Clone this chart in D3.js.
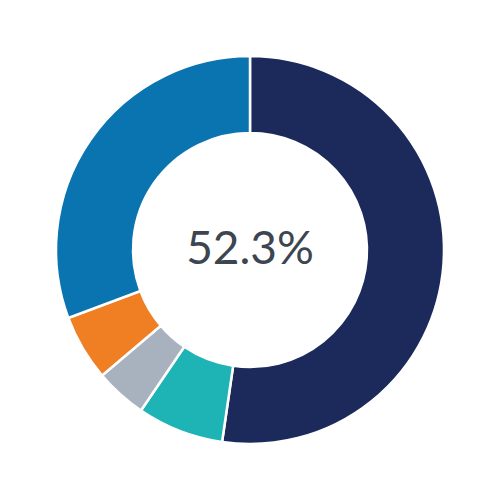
<!DOCTYPE html>
<html>
<head>
<meta charset="utf-8">
<script src="https://cdn.jsdelivr.net/npm/d3@7"></script>
<style>
  body { margin: 0; background: #fff; }
</style>
</head>
<body>
<svg width="500" height="500"></svg>
<script>
var labels = ['A', 'B', 'C', 'D', 'E']
var values = [52.3, 7.2, 4.3, 5.5, 30.7]
var colors = ['#1b2a5b', '#1eb4b6', '#a8b2bf', '#f07e22', '#0a74b1']
var centerLabel = '52.3%'

var svg = d3.select('svg')
var g = svg.append('g').attr('transform', 'translate(250,250)')

var pie = d3.pie().sort(null).value(function (d) { return d })
var arc = d3.arc().innerRadius(117).outerRadius(194)

g.selectAll('path')
  .data(pie(values))
  .enter().append('path')
  .attr('d', arc)
  .attr('fill', function (d, i) { return colors[i] })
  .attr('stroke', '#fff')
  .attr('stroke-width', 2.5)

g.append('text')
  .attr('text-anchor', 'middle')
  .attr('y', 14)
  .attr('font-family', 'Lato')
  .attr('font-size', 46)
  .attr('fill', '#3c4550')
  .text(centerLabel)
</script>
</body>
</html>
